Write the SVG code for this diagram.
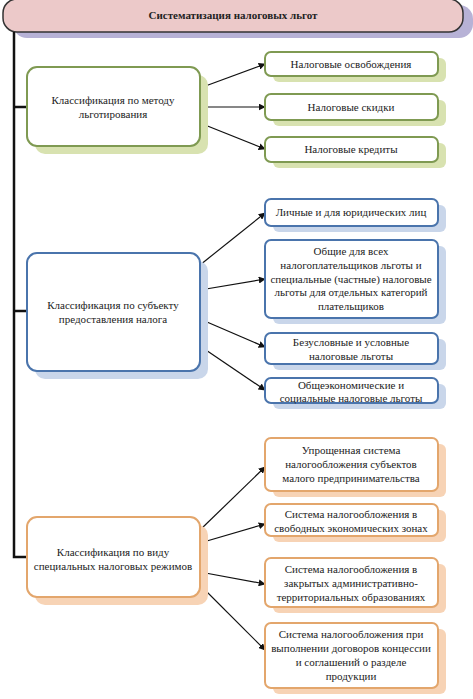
<svg xmlns="http://www.w3.org/2000/svg" width="473" height="699" viewBox="0 0 473 699">
<style>
text{font-family:"Liberation Serif","Times New Roman",serif;font-size:11px;fill:#222;text-anchor:middle}
.t{font-weight:bold;font-size:11px}
.g{fill:#fff;stroke:#7f9a52;stroke-width:2}
.gs{fill:#d8e2b0}
.b{fill:#fff;stroke:#4a74ac;stroke-width:2}
.bs{fill:#c9d6ea}
.o{fill:#fff;stroke:#e3a66c;stroke-width:2}
.os{fill:#f7d3b5}
.c{stroke:#111;stroke-width:1.2;fill:none}
.trunk{stroke:#111;stroke-width:2.5;fill:none}
</style>
<defs>
<marker id="ah" viewBox="0 0 10 10" refX="9" refY="5" markerWidth="7" markerHeight="7" orient="auto" markerUnits="userSpaceOnUse"><path d="M0,0 L10,5 L0,10 z" fill="#111"/></marker>
</defs>
<rect width="473" height="699" fill="#fff"/>

<g id="title">
<rect x="13" y="5" width="460" height="33" rx="14" fill="#b7b2d6"/>
<rect x="3" y="-1" width="460" height="33" rx="14" fill="#ecc9c9" stroke="#333" stroke-width="1.5"/>
<text class="t" x="233" y="19">Систематизация налоговых льгот</text>
</g>

<g id="connectors">
<path class="trunk" d="M14,32 V557 H27 M14,107 H27 M14,311 H27"/>
<path class="c" marker-end="url(#ah)" d="M200,88 L265,64"/>
<path class="c" marker-end="url(#ah)" d="M200,107 L265,107"/>
<path class="c" marker-end="url(#ah)" d="M200,123 L265,149"/>
<path class="c" marker-end="url(#ah)" d="M200,265 L265,213"/>
<path class="c" marker-end="url(#ah)" d="M200,290 L265,279"/>
<path class="c" marker-end="url(#ah)" d="M200,319 L265,347"/>
<path class="c" marker-end="url(#ah)" d="M200,346 L265,390"/>
<path class="c" marker-end="url(#ah)" d="M200,530 L265,467"/>
<path class="c" marker-end="url(#ah)" d="M200,543 L265,524"/>
<path class="c" marker-end="url(#ah)" d="M200,572 L265,584"/>
<path class="c" marker-end="url(#ah)" d="M200,585 L265,650"/>
</g>

<g id="n1">
<rect class="gs" x="35" y="75" width="173" height="79" rx="10"/>
<rect class="g" x="27" y="67" width="173" height="79" rx="10"/>
<text x="113" y="104">Классификация по методу</text>
<text x="113" y="118">льготирования</text>
</g>
<g id="n1a">
<rect class="gs" x="273" y="58" width="173" height="24" rx="6"/>
<rect class="g" x="265" y="52" width="173" height="24" rx="6"/>
<text x="351" y="68">Налоговые освобождения</text>
</g>
<g id="n1b">
<rect class="gs" x="273" y="100" width="173" height="26" rx="6"/>
<rect class="g" x="265" y="94" width="173" height="26" rx="6"/>
<text x="351" y="111">Налоговые скидки</text>
</g>
<g id="n1c">
<rect class="gs" x="273" y="143" width="173" height="25" rx="6"/>
<rect class="g" x="265" y="137" width="173" height="25" rx="6"/>
<text x="351" y="153">Налоговые кредиты</text>
</g>

<g id="n2">
<rect class="bs" x="35" y="261" width="173" height="118" rx="10"/>
<rect class="b" x="27" y="253" width="173" height="118" rx="10"/>
<text x="113" y="309">Классификация по субъекту</text>
<text x="113" y="323">предоставления налога</text>
</g>
<g id="n2a">
<rect class="bs" x="273" y="205" width="173" height="27" rx="6"/>
<rect class="b" x="265" y="199" width="173" height="27" rx="6"/>
<text x="351" y="216">Личные и для юридических лиц</text>
</g>
<g id="n2b">
<rect class="bs" x="273" y="246" width="173" height="78" rx="6"/>
<rect class="b" x="265" y="240" width="173" height="78" rx="6"/>
<text x="351" y="255">Общие для всех</text>
<text x="351" y="269">налогоплательщиков льготы и</text>
<text x="351" y="283">специальные (частные) налоговые</text>
<text x="351" y="296">льготы для отдельных категорий</text>
<text x="351" y="310">плательщиков</text>
</g>
<g id="n2c">
<rect class="bs" x="273" y="339" width="173" height="31" rx="6"/>
<rect class="b" x="265" y="333" width="173" height="31" rx="6"/>
<text x="351" y="346">Безусловные и условные</text>
<text x="351" y="360">налоговые льготы</text>
</g>
<g id="n2d">
<rect class="bs" x="273" y="384" width="173" height="25" rx="6"/>
<rect class="b" x="265" y="378" width="173" height="25" rx="6"/>
<text x="351" y="389">Общеэкономические и</text>
<text x="351" y="402">социальные налоговые льготы</text>
</g>

<g id="n3">
<rect class="os" x="35" y="525" width="173" height="80" rx="10"/>
<rect class="o" x="27" y="517" width="173" height="80" rx="10"/>
<text x="113" y="556">Классификация по виду</text>
<text x="113" y="570">специальных налоговых режимов</text>
</g>
<g id="n3a">
<rect class="os" x="273" y="444" width="173" height="53" rx="6"/>
<rect class="o" x="265" y="438" width="173" height="53" rx="6"/>
<text x="351" y="454">Упрощенная система</text>
<text x="351" y="468">налогообложения субъектов</text>
<text x="351" y="482">малого предпринимательства</text>
</g>
<g id="n3b">
<rect class="os" x="273" y="510" width="173" height="32" rx="6"/>
<rect class="o" x="265" y="504" width="173" height="32" rx="6"/>
<text x="351" y="518">Система налогообложения в</text>
<text x="351" y="532">свободных экономических зонах</text>
</g>
<g id="n3c">
<rect class="os" x="273" y="564" width="173" height="49" rx="6"/>
<rect class="o" x="265" y="558" width="173" height="49" rx="6"/>
<text x="351" y="573">Система налогообложения в</text>
<text x="351" y="587">закрытых административно-</text>
<text x="351" y="601">территориальных образованиях</text>
</g>
<g id="n3d">
<rect class="os" x="273" y="629" width="173" height="65" rx="6"/>
<rect class="o" x="265" y="623" width="173" height="65" rx="6"/>
<text x="351" y="638">Система налогообложения при</text>
<text x="351" y="652">выполнении договоров концессии</text>
<text x="351" y="666">и соглашений о разделе</text>
<text x="351" y="680">продукции</text>
</g>
</svg>
